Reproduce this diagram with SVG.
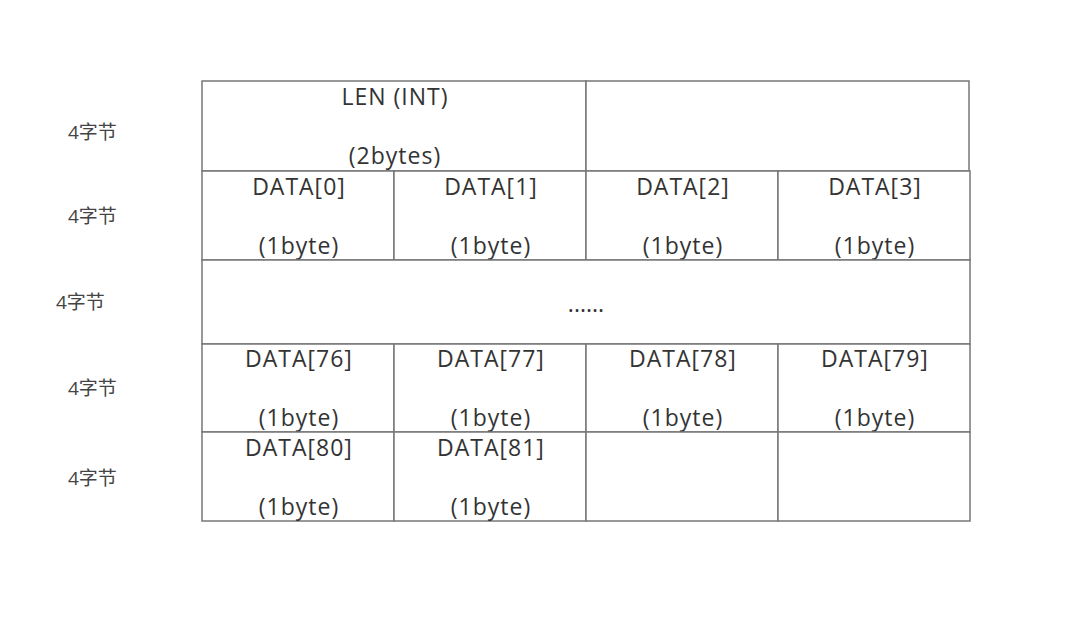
<svg xmlns="http://www.w3.org/2000/svg" width="1070" height="636" viewBox="0 0 1070 636">
<style>
.cell{fill:#fff;stroke:#777;stroke-width:1.5}
.t{font-family:"Open Sans","Noto Sans",sans-serif;font-size:23px;font-weight:400;letter-spacing:1px;fill:#333;text-anchor:middle}
.d{letter-spacing:0}
.lbl{font-family:"Open Sans","Noto Sans CJK SC",sans-serif;font-size:19px;fill:#444}
</style>
<rect width="1070" height="636" fill="#fff"/>
<g id="labels">
<text class="lbl" x="68" y="139">4字节</text>
<text class="lbl" x="68" y="223">4字节</text>
<text class="lbl" x="56" y="309">4字节</text>
<text class="lbl" x="68" y="395">4字节</text>
<text class="lbl" x="68" y="485">4字节</text>
</g>
<g id="row0">
<g id="len"><rect class="cell" x="202" y="81" width="384" height="90"/><text class="t" x="395" y="105">LEN (INT)</text><text class="t" x="395" y="164">(2bytes)</text></g>
<g id="len-pad"><rect class="cell" x="586" y="81" width="383" height="90"/></g>
</g>
<g id="row1">
<g id="d0"><rect class="cell" x="202" y="171" width="192" height="89"/><text class="t" x="299" y="195">DATA[0]</text><text class="t" x="299" y="254">(1byte)</text></g>
<g id="d1"><rect class="cell" x="394" y="171" width="192" height="89"/><text class="t" x="491" y="195">DATA[1]</text><text class="t" x="491" y="254">(1byte)</text></g>
<g id="d2"><rect class="cell" x="586" y="171" width="192" height="89"/><text class="t" x="683" y="195">DATA[2]</text><text class="t" x="683" y="254">(1byte)</text></g>
<g id="d3"><rect class="cell" x="778" y="171" width="192" height="89"/><text class="t" x="875" y="195">DATA[3]</text><text class="t" x="875" y="254">(1byte)</text></g>
</g>
<g id="row2">
<g id="dots"><rect class="cell" x="202" y="260" width="768" height="84"/><text class="t d" x="586" y="312">......</text></g>
</g>
<g id="row3">
<g id="d76"><rect class="cell" x="202" y="344" width="192" height="88"/><text class="t" x="299" y="367">DATA[76]</text><text class="t" x="299" y="426">(1byte)</text></g>
<g id="d77"><rect class="cell" x="394" y="344" width="192" height="88"/><text class="t" x="491" y="367">DATA[77]</text><text class="t" x="491" y="426">(1byte)</text></g>
<g id="d78"><rect class="cell" x="586" y="344" width="192" height="88"/><text class="t" x="683" y="367">DATA[78]</text><text class="t" x="683" y="426">(1byte)</text></g>
<g id="d79"><rect class="cell" x="778" y="344" width="192" height="88"/><text class="t" x="875" y="367">DATA[79]</text><text class="t" x="875" y="426">(1byte)</text></g>
</g>
<g id="row4">
<g id="d80"><rect class="cell" x="202" y="432" width="192" height="89"/><text class="t" x="299" y="456">DATA[80]</text><text class="t" x="299" y="515">(1byte)</text></g>
<g id="d81"><rect class="cell" x="394" y="432" width="192" height="89"/><text class="t" x="491" y="456">DATA[81]</text><text class="t" x="491" y="515">(1byte)</text></g>
<g id="e82"><rect class="cell" x="586" y="432" width="192" height="89"/></g>
<g id="e83"><rect class="cell" x="778" y="432" width="192" height="89"/></g>
</g>
<g id="connectors"/>
</svg>
